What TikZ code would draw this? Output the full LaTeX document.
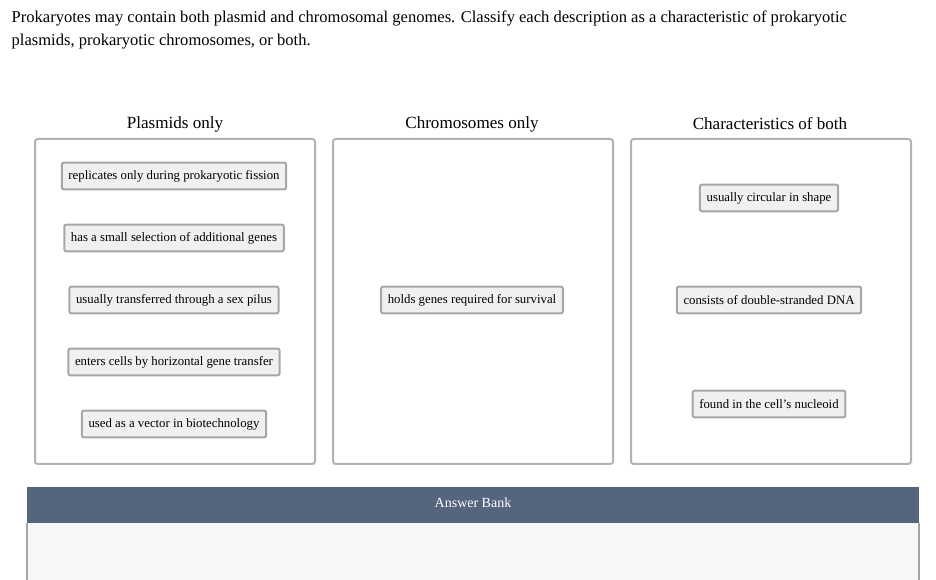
\documentclass[tikz,border=0pt]{standalone}
\usepackage{fontspec}
\setmainfont{Liberation Serif}
\begin{document}
\begin{tikzpicture}[x=0.75pt,y=-0.75pt,
  col/.style={draw=black!30,line width=1.5pt,rounded corners=2pt},
  chip/.style={draw=black!35,line width=1.5pt,fill=black!6,rounded corners=1.5pt,inner xsep=5pt,minimum height=20pt,font=\fontsize{9.6}{11}\selectfont},
  head/.style={font=\fontsize{12.8}{15}\selectfont}]
\useasboundingbox (0,0) rectangle (936,580);
\node[anchor=west,font=\fontsize{12.4}{15}\selectfont] (t1) at (7,18) {Prokaryotes may contain both plasmid and chromosomal genomes. Classify each description as a characteristic of prokaryotic};
\node[anchor=west,font=\fontsize{12.4}{15}\selectfont] (t2) at (7,42) {plasmids, prokaryotic chromosomes, or both.};
\draw[col] (35,139) rectangle (315,464);
\draw[col] (333,139) rectangle (613,464);
\draw[col] (631,139) rectangle (911,464);
\node[head] (h1) at (175,124) {Plasmids only};
\node[head] (h2) at (472,124) {Chromosomes only};
\node[head] (h3) at (770,124) {Characteristics of both};
\node[chip] (a1) at (174,176) {replicates only during prokaryotic fission};
\node[chip] (a2) at (174,238) {has a small selection of additional genes};
\node[chip] (a3) at (174,300) {usually transferred through a sex pilus};
\node[chip] (a4) at (174,362) {enters cells by horizontal gene transfer};
\node[chip] (a5) at (174,424) {used as a vector in biotechnology};
\node[chip] (b1) at (472,300) {holds genes required for survival};
\node[chip] (c1) at (769,198) {usually circular in shape};
\node[chip] (c2) at (769,300) {consists of double-stranded DNA};
\node[chip] (c3) at (769,404) {found in the cell's nucleoid};
\fill[black!3] (27,523) rectangle (919,580);
\draw[black!35,line width=1pt] (27,523) -- (27,580) (919,523) -- (919,580);
\fill[fill={rgb,255:red,86;green,101;blue,126}] (27,487) rectangle (919,523);
\node[white,font=\fontsize{10.5}{12}\selectfont] (ab) at (473,503) {Answer Bank};
\end{tikzpicture}
\end{document}
